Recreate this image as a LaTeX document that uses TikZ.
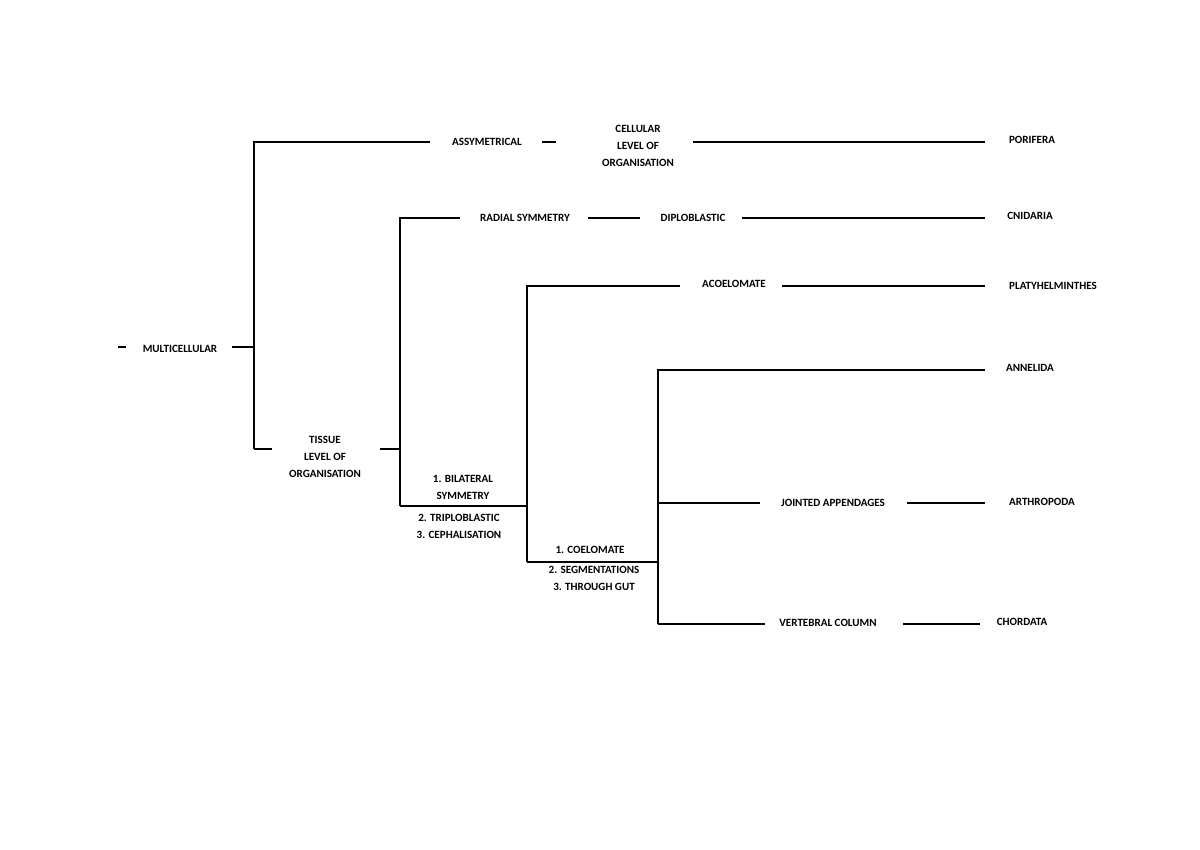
\documentclass[tikz,border=0pt]{standalone}
\usepackage{fontspec}
\setmainfont{Carlito}
\begin{document}
\begin{tikzpicture}[x=0.02cm,y=-0.02cm,
  lbl/.style={font=\bfseries\fontsize{6.3}{9.6}\selectfont,align=center,inner sep=0pt},
  ln/.style={line width=1.6pt}]
\useasboundingbox (0,0) rectangle (1200,849);
\node[lbl] (multi) at (180,349) {MULTICELLULAR};
\draw[ln] (118,347) -- (126,347);
\draw[ln] (232,347) -- (254,347);
\draw[ln] (254,449) -- (254,142) -- (430,142);
\node[lbl] (assy) at (487,142) {ASSYMETRICAL};
\draw[ln] (542,142) -- (556,142);
\node[lbl] (cell) at (638,146) {CELLULAR\\LEVEL OF\\ORGANISATION};
\draw[ln] (693,142) -- (985,142);
\node[lbl] (por) at (1032,140) {PORIFERA};
\draw[ln] (254,449) -- (272,449);
\node[lbl] (tissue) at (325,457) {TISSUE\\LEVEL OF\\ORGANISATION};
\draw[ln] (380,449) -- (400,449);
\draw[ln] (400,506) -- (400,218) -- (460,218);
\node[lbl] (rad) at (525,218) {RADIAL SYMMETRY};
\draw[ln] (588,218) -- (640,218);
\node[lbl] (dip) at (693,218) {DIPLOBLASTIC};
\draw[ln] (742,218) -- (985,218);
\node[lbl] (cni) at (1030,216) {CNIDARIA};
\draw[ln] (400,506) -- (527,506);
\node[lbl] (bil) at (463,487) {1. BILATERAL\\SYMMETRY};
\node[lbl] (trip) at (459,526) {2. TRIPLOBLASTIC\\3. CEPHALISATION};
\draw[ln] (527,562) -- (527,286) -- (680,286);
\node[lbl] (aco) at (734,284) {ACOELOMATE};
\draw[ln] (782,286) -- (985,286);
\node[lbl] (pla) at (1053,286) {PLATYHELMINTHES};
\draw[ln] (527,562) -- (658,562);
\node[lbl] (coel) at (590,550) {1. COELOMATE};
\node[lbl] (seg) at (594,578) {2. SEGMENTATIONS\\3. THROUGH GUT};
\draw[ln] (658,624) -- (658,370) -- (985,370);
\node[lbl] (ann) at (1030,368) {ANNELIDA};
\draw[ln] (658,503) -- (760,503);
\node[lbl] (joint) at (833,503) {JOINTED APPENDAGES};
\draw[ln] (907,503) -- (985,503);
\node[lbl] (arth) at (1042,502) {ARTHROPODA};
\draw[ln] (658,624) -- (765,624);
\node[lbl] (vert) at (828,623) {VERTEBRAL COLUMN};
\draw[ln] (903,624) -- (980,624);
\node[lbl] (chor) at (1022,622) {CHORDATA};
\end{tikzpicture}
\end{document}
